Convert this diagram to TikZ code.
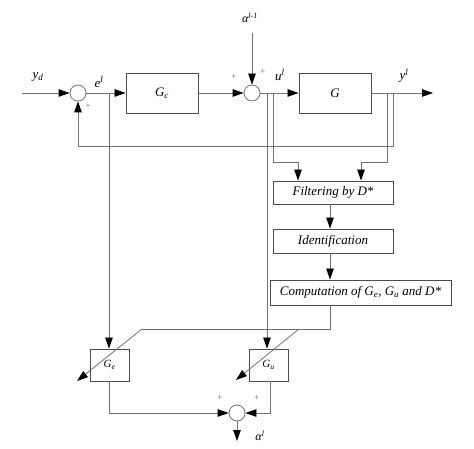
\documentclass[tikz,border=0pt]{standalone}
\usepackage{fontspec}
\setmainfont{Liberation Serif}
\usetikzlibrary{arrows.meta,calc}
\newcommand{\sub}[2]{#1\textsubscript{#2}}
\newcommand{\supl}[2]{#1\textsuperscript{#2}}
\begin{document}
\begin{tikzpicture}[x=1pt,y=-1pt,
  line/.style={draw=black!55,line width=0.8pt},
  arr/.style={line,-{Triangle[length=11pt,width=7.5pt,fill=black,color=black]}},
  blk/.style={draw=black!70,line width=0.9pt,minimum width=#1,inner sep=0pt,font=\itshape\fontsize{13}{14}\selectfont},
  sumc/.style={circle,draw=black!55,line width=0.8pt,minimum size=16pt,inner sep=0pt},
  lbl/.style={inner sep=0pt,font=\itshape\fontsize{13}{14}\selectfont},
  sgn/.style={inner sep=0pt,font=\fontsize{9}{10}\selectfont,text=black!60}]
\useasboundingbox (0,0) rectangle (474,449);
% nodes
\node[sumc] (s1) at (78,93) {};
\node[blk=72pt,minimum height=40pt] (Gc) at (162,93) {\sub{G}{c}};
\node[sumc] (s2) at (252,93) {};
\node[blk=72pt,minimum height=40pt] (G) at (335,93) {G};
\node[blk=120pt,minimum height=23pt] (filt) at (333,192.5) {Filtering by D*};
\node[blk=120pt,minimum height=24pt] (ident) at (333,241) {Identification};
\node[blk=181pt,minimum height=25pt] (comp) at (360.5,292.5) {Computation of \sub{G}{e}, \sub{G}{u} and D*};
\node[blk=39pt,minimum height=32pt,font=\itshape\fontsize{11}{12}\selectfont] (Ge) at (109.5,365) {\sub{G}{e}};
\node[blk=39pt,minimum height=32pt,font=\itshape\fontsize{11}{12}\selectfont] (Gu) at (268.5,365) {\sub{G}{u}};
\node[sumc] (s3) at (237,413) {};
% free ends
\coordinate (in) at (22,93);
\coordinate (al) at (252,33);
\coordinate (out) at (433,93);
\coordinate (aout) at (237,441);
\coordinate (bE) at (109,93);
\coordinate (bU1) at (267,93);
\coordinate (bU2) at (273,93);
\coordinate (bY1) at (387,93);
\coordinate (bY2) at (393,93);
\coordinate (fL) at (298,162);
\coordinate (fR) at (361,162);
\coordinate (fb) at (78,146);
\coordinate (vx) at (330,0);
\coordinate (uo) at (270,0);
\coordinate (cA) at (330,329);
\coordinate (cL) at (142,329);
\coordinate (cM) at (299,329);
\coordinate (tE) at (77,381);
\coordinate (tU) at (236,380);
% labels
\node[lbl] (lyd) at (38,77) {\sub{y}{d}};
\node[lbl] (le) at (99,82) {\supl{e}{l}};
\node[sgn] (m1) at (88,107) {\fontsize{12}{12}\selectfont -};
\node[sgn] (p1) at (234,77) {+};
\node[sgn] (p2) at (263,72) {+};
\node[lbl,font=\itshape\fontsize{12}{13}\selectfont] (lal) at (250,18) {\supl{α}{l-1}};
\node[lbl] (lu) at (280,75) {\supl{u}{l}};
\node[lbl] (ly) at (404,76) {\supl{y}{l}};
\node[sgn] (p3) at (220,398) {+};
\node[sgn] (p4) at (257,398) {+};
\node[lbl,font=\itshape\fontsize{12}{13}\selectfont] (lao) at (260,436) {\supl{α}{l}};
% connectors
\draw[arr] (in) -- (s1);
\draw[arr] (s1) -- (Gc);
\draw[arr] (bE) -- (bE |- Ge.north);
\draw[arr] (Gc) -- (s2);
\draw[arr] (al) -- (s2);
\draw[arr] (s2) -- (G);
\draw[arr] (G) -- (out);
\draw[arr] (bU1) -- (bU1 |- Gu.north);
\draw[arr] (bU2) |- (fL) -- (fL |- filt.north);
\draw[arr] (bY1) |- (fR) -- (fR |- filt.north);
\draw[arr] (bY2) |- (fb) -- (s1);
\draw[arr] (vx |- filt.south) -- (vx |- ident.north);
\draw[arr] (vx |- ident.south) -- (vx |- comp.north);
\draw[line] (vx |- comp.south) -- (cA) -- (cL);
\draw[arr] (cL) -- (tE);
\draw[arr] (cM) -- (tU);
\draw[arr] (Ge.south) |- (s3);
\draw[arr] (uo |- Gu.south) |- (s3);
\draw[arr] (s3) -- (aout);
\end{tikzpicture}
\end{document}
